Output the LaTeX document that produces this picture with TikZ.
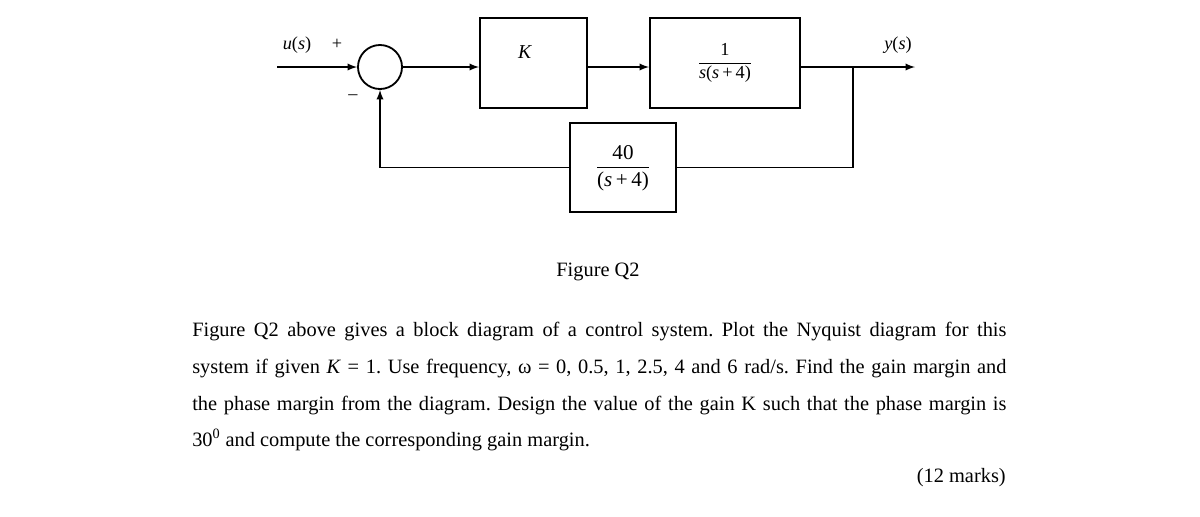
\documentclass[tikz,border=0pt]{standalone}
\usepackage{fontspec}
\setmainfont{Liberation Serif}
\frenchspacing
\begin{document}
\begin{tikzpicture}[x=0.025cm,y=-0.025cm,
  blk/.style={draw,line width=1.4pt,inner sep=0pt},
  ln/.style={line width=1.3pt},
  arr/.style={ln,-latex},
  txt/.style={font=\fontsize{13}{15}\selectfont,inner sep=0pt}]
\useasboundingbox (0,0) rectangle (1200,516);
% blocks
\node[draw,circle,line width=1.3pt,minimum size=1.1cm,inner sep=0pt] (sum) at (380,67) {};
\node[blk,minimum width=2.675cm,minimum height=2.25cm] (K) at (533.5,63) {};
\node[txt,font=\fontsize{14}{16}\selectfont] at (525,52) {\textit{K}};
\node[blk,minimum width=3.75cm,minimum height=2.25cm] (G) at (725,63) {};
\node[txt] (Gt) at (725,63) {$\displaystyle\frac{\mbox{1}\vphantom{(}}{\mbox{\textit{s}(\textit{s}\,+\,4)}}$};
\node[blk,minimum width=2.65cm,minimum height=2.225cm,
  font=\fontsize{15}{17}\selectfont] (H) at (623,167.5) {$\displaystyle\frac{\mbox{40}\vphantom{(}}{\mbox{(\textit{s}\,+\,4)}}$};
% connectors
\coordinate (in) at (277,67);
\coordinate (out) at (915,67);
\coordinate (br) at (853,67);
\draw[arr] (in) -- (sum.west);
\draw[arr] (sum.east) -- (sum.east -| K.west);
\draw[arr] (K.east |- sum.east) -- (G.west |- sum.east);
\draw[arr] (G.east |- sum.east) -- (out);
\draw[ln] (br) |- (H.east);
\draw[arr] (H.west) -| (sum.south);
% labels
\node[txt] at (297,45) {\textit{u}(\textit{s})};
\node[txt] at (337,44) {+};
\node[txt] at (353,97) {--};
\node[txt] at (898,45) {\textit{y}(\textit{s})};
\node[txt,font=\fontsize{14.5}{16}\selectfont] at (598,272) {Figure Q2};
% paragraph
\begin{scope}[every node/.style={txt,anchor=base west,font=\fontsize{14.5}{16}\selectfont}]
\node at (192,336) {\makebox[20.35cm][s]{Figure Q2 above gives a block diagram of a control system. Plot the Nyquist diagram for this}};
\node at (192,373) {\makebox[20.35cm][s]{system if given \textit{K} = 1. Use frequency, ω = 0, 0.5, 1, 2.5, 4 and 6 rad/s. Find the gain margin and}};
\node at (192,410) {\makebox[20.35cm][s]{the phase margin from the diagram. Design the value of the gain K such that the phase margin is}};
\node at (192,446) {30\textsuperscript{0} and compute the corresponding gain margin.};
\node[anchor=base east] at (1006,482) {(12 marks)};
\end{scope}
\end{tikzpicture}
\end{document}
